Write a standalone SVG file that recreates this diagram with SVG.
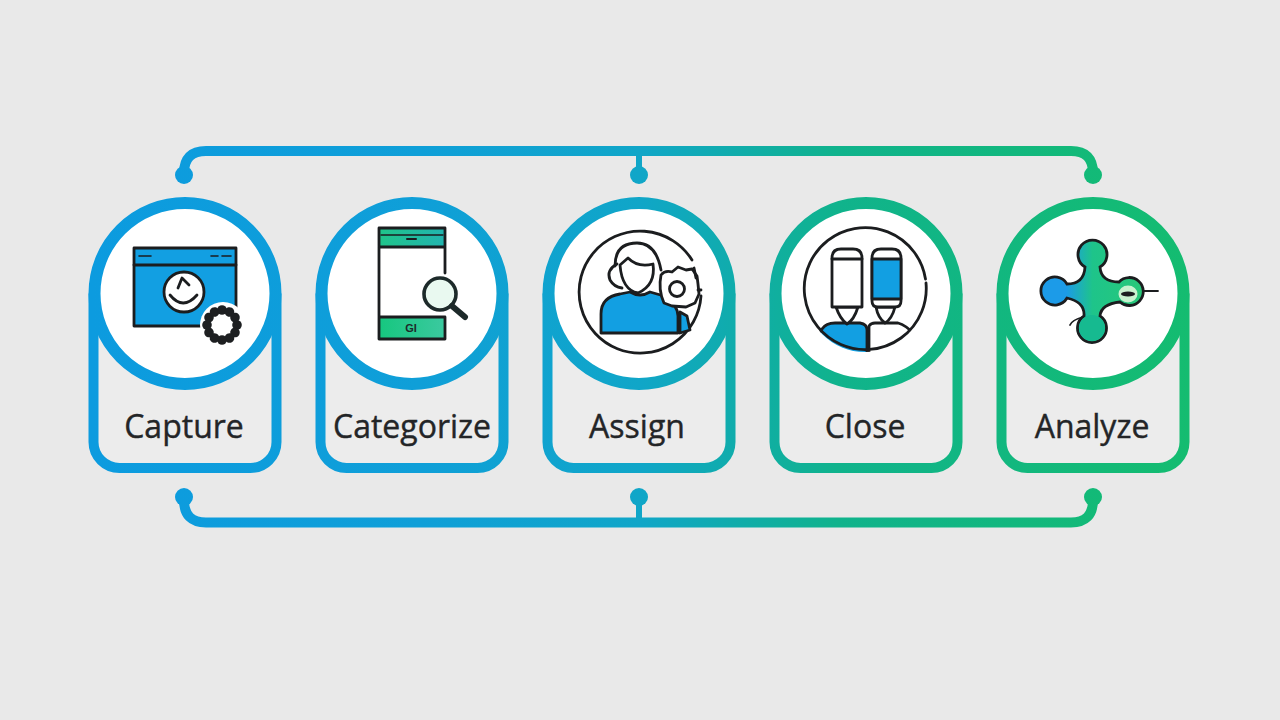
<svg xmlns="http://www.w3.org/2000/svg" width="1280" height="720" viewBox="0 0 1280 720">
<style>
.card{fill:#ececec;stroke:url(#flow);stroke-width:10}
.disc{fill:#fff;stroke:url(#flow);stroke-width:12}
.link{fill:none;stroke:url(#flow);stroke-width:10;stroke-linecap:round}
.stem{fill:none;stroke:url(#flow);stroke-width:6}
.dot{fill:url(#flow)}
.label{font-family:"Open Sans","Noto Sans",sans-serif;font-size:32px;fill:#232527;stroke:#232527;stroke-width:.4;text-anchor:middle}
.ink{fill:none;stroke:#1b1d1f;stroke-width:2.8;stroke-linejoin:round;stroke-linecap:round}
.blue{fill:#129fe2;stroke:#1b1d1f;stroke-width:2.8;stroke-linejoin:round}
.white{fill:#fff;stroke:#1b1d1f;stroke-width:2.8;stroke-linejoin:round}
.bead{fill:#1d1f21}
</style>
<defs>
<linearGradient id="flow" gradientUnits="userSpaceOnUse" x1="90" y1="0" x2="1190" y2="0">
<stop offset="0" stop-color="#0c9bdf"/><stop offset=".3" stop-color="#0f9fd8"/><stop offset=".5" stop-color="#10a6c8"/><stop offset=".68" stop-color="#10b38c"/><stop offset="1" stop-color="#14bc70"/>
</linearGradient>
<linearGradient id="band" x1="0" y1="0" x2="1" y2="0"><stop offset="0" stop-color="#20c48a"/><stop offset="1" stop-color="#22b4b0"/></linearGradient>
<linearGradient id="band2" x1="0" y1="0" x2="1" y2="0"><stop offset="0" stop-color="#16c77f"/><stop offset="1" stop-color="#3cc9a0"/></linearGradient>
<linearGradient id="hub" gradientUnits="userSpaceOnUse" x1="1040" y1="0" x2="1145" y2="0">
<stop offset="0" stop-color="#1c9be8"/><stop offset=".25" stop-color="#1c9be8"/><stop offset=".5" stop-color="#1ec48a"/><stop offset="1" stop-color="#28c878"/>
</linearGradient>
<clipPath id="closeClip"><circle cx="865" cy="292" r="60"/></clipPath>
<g id="ring"><circle cx="15" cy="0" r="4.8"/></g>
</defs>
<rect width="1280" height="720" fill="#e9e9e9"/>

<g id="connectors">
<path class="link" d="M184,175 V173 Q184,151 206,151 H1071 Q1093,151 1093,173 V175"/>
<path class="stem" d="M639,151 V175"/>
<circle class="dot" cx="184" cy="175" r="9"/><circle class="dot" cx="639" cy="175" r="9"/><circle class="dot" cx="1093" cy="175" r="9"/>
<path class="link" d="M184,497 V500 Q184,522.500 206,522.500 H1071 Q1093,522.500 1093,500 V497"/>
<path class="stem" d="M639,522 V497"/>
<circle class="dot" cx="184" cy="497" r="9"/><circle class="dot" cx="639" cy="497" r="9"/><circle class="dot" cx="1093" cy="497" r="9"/>
</g>

<g id="node-capture">
<path class="card" d="M93.500,293.500 V442 A26,26 0 0 0 119.500,468 H250.500 A26,26 0 0 0 276.500,442 V293.500"/>
<circle class="disc" cx="185" cy="293.500" r="90.500"/>
<rect class="blue" x="134" y="248" width="102" height="78"/>
<path class="ink" d="M134,265 H236"/>
<path class="ink" d="M139,256 H151 M211,256 H218 M222,256 H231" style="stroke-width:1.6"/>
<circle class="white" cx="184" cy="292" r="20"/>
<path class="ink" d="M178,288 L182,278 L189,285 M170,295 Q183,311 197,295"/>
<circle cx="223" cy="325" r="23" fill="#fff"/>
<g id="gear-capture" class="bead">
<use href="#ring" transform="translate(222,325) rotate(0)"/><use href="#ring" transform="translate(222,325) rotate(30)"/><use href="#ring" transform="translate(222,325) rotate(60)"/><use href="#ring" transform="translate(222,325) rotate(90)"/><use href="#ring" transform="translate(222,325) rotate(120)"/><use href="#ring" transform="translate(222,325) rotate(150)"/><use href="#ring" transform="translate(222,325) rotate(180)"/><use href="#ring" transform="translate(222,325) rotate(210)"/><use href="#ring" transform="translate(222,325) rotate(240)"/><use href="#ring" transform="translate(222,325) rotate(270)"/><use href="#ring" transform="translate(222,325) rotate(300)"/><use href="#ring" transform="translate(222,325) rotate(330)"/>
</g>
<circle cx="222" cy="325" r="10" fill="#fff"/>
<text class="label" x="184" y="438">Capture</text>
</g>

<g id="node-categorize">
<path class="card" d="M320.500,293.500 V442 A26,26 0 0 0 346.500,468 H477.500 A26,26 0 0 0 503.500,442 V293.500"/>
<circle class="disc" cx="412" cy="293.500" r="90.500"/>
<rect x="379" y="228" width="67" height="19" fill="url(#band)"/>
<rect x="379" y="317" width="67" height="22" fill="url(#band2)"/>
<path class="ink" d="M445,273 V228 H379 V339 H445 V317 H379 M379,247 H445"/>
<path class="ink" d="M381,235 H443" style="stroke-width:1.4"/>
<path class="ink" d="M407,239 H416" style="stroke-width:2"/>
<circle cx="440" cy="294" r="16" fill="#e9f9f0" stroke="#1d2a2a" stroke-width="3.6"/>
<path d="M452,306 L465,317" fill="none" stroke="#1d2a2a" stroke-width="6" stroke-linecap="round"/>
<text x="411" y="332" font-family="Liberation Sans, sans-serif" font-size="11" font-weight="700" fill="#1d2a2a" text-anchor="middle">GI</text>
<text class="label" x="412" y="438">Categorize</text>
</g>

<g id="node-assign">
<path class="card" d="M547.500,293.500 V442 A26,26 0 0 0 573.500,468 H704.500 A26,26 0 0 0 730.500,442 V293.500"/>
<circle class="disc" cx="639" cy="293.500" r="90.500"/>
<path class="ink" d="M692,260 A61,61 0 1 0 701,296"/>
<path class="blue" d="M601,333 V314 Q601,297 620,294 L630,292 Q640,298 650,292 L664,296 Q678,305 678,316 V333 Z"/>
<path class="ink" d="M615,266 Q615,243 637,243 Q656,243 661,270"/>
<path class="white" d="M620,265 L628,258 Q638,268 653,264 Q656,285 638,293 Q622,290 620,265 Z"/>
<path class="ink" d="M617,264 Q606,270 610,280 Q614,287 622,288"/>
<path class="blue" d="M680,312 L687,316 L690,330 L680,333 Z"/>
<path class="white" d="M661,275 Q665,270 672,272 L678,267 L686,270 L692,269 L697,276 L698,284 L699,294 L695,303 L686,307 L672,306 L664,303 Q658,290 661,275 Z"/>
<circle class="white" cx="677" cy="289" r="7.500"/>
<path class="ink" d="M694,268 L696,278 M698,290 H701"/>
<text class="label" x="637" y="438">Assign</text>
</g>

<g id="node-close">
<path class="card" d="M774.500,293.500 V442 A26,26 0 0 0 800.500,468 H931.500 A26,26 0 0 0 957.500,442 V293.500"/>
<circle class="disc" cx="866" cy="293.500" r="90.500"/>
<g clip-path="url(#closeClip)">
<path class="white" d="M869,326 Q871,323 875,323 H898 Q906,325 915,335 L915,360 H869 Z"/>
<path class="blue" d="M815,340 L822,329 Q826,323 835,323 H860 Q867,324 867,330 V360 H815 Z"/>
</g>
<path class="white" d="M836,307 Q840,319 847,324 Q854,320 858,307 Z"/>
<path class="white" d="M876,307 Q878,318 885,323 Q892,319 895,307 Z"/>
<path class="white" d="M832,258 Q832,249 841,249 H853 Q862,249 862,258 V307 H832 Z"/>
<path class="ink" d="M832,259 H862"/>
<path class="white" d="M872,258 Q872,249 881,249 H892 Q901,249 901,258 V301 Q901,307 895,307 H878 Q872,307 872,301 Z"/>
<rect class="blue" x="872" y="259" width="29" height="40"/>
<path class="ink" d="M925.500,279 A61,61 0 1 0 926,283"/>
<text class="label" x="865" y="438">Close</text>
</g>

<g id="node-analyze">
<path class="card" d="M1001.500,293.500 V442 A26,26 0 0 0 1027.500,468 H1158.500 A26,26 0 0 0 1184.500,442 V293.500"/>
<circle class="disc" cx="1093" cy="293.500" r="90.500"/>
<path fill="url(#hub)" stroke="#1b1d1f" stroke-width="2.800" d="M1085,267 A14.5,14.5 0 1 1 1100,267 Q1101,282 1119,282 A14,14 0 1 1 1120,302 Q1101,304 1100,316 A14.5,14.5 0 1 1 1084,316 Q1085,302 1067,298 A14,14 0 1 1 1067,284 Q1084,284 1085,267 Z"/>
<circle cx="1092" cy="328" r="13" fill="#16ba90"/>
<ellipse cx="1128" cy="294" rx="9.500" ry="8.500" fill="#c8f2cf"/>
<ellipse cx="1128" cy="294" rx="7" ry="2.500" fill="#1b1d1f"/>
<path class="ink" d="M1144,291 H1158 M1070,325 Q1072,320 1083,317" style="stroke-width:1.8"/>
<text class="label" x="1092" y="438">Analyze</text>
</g>
</svg>
